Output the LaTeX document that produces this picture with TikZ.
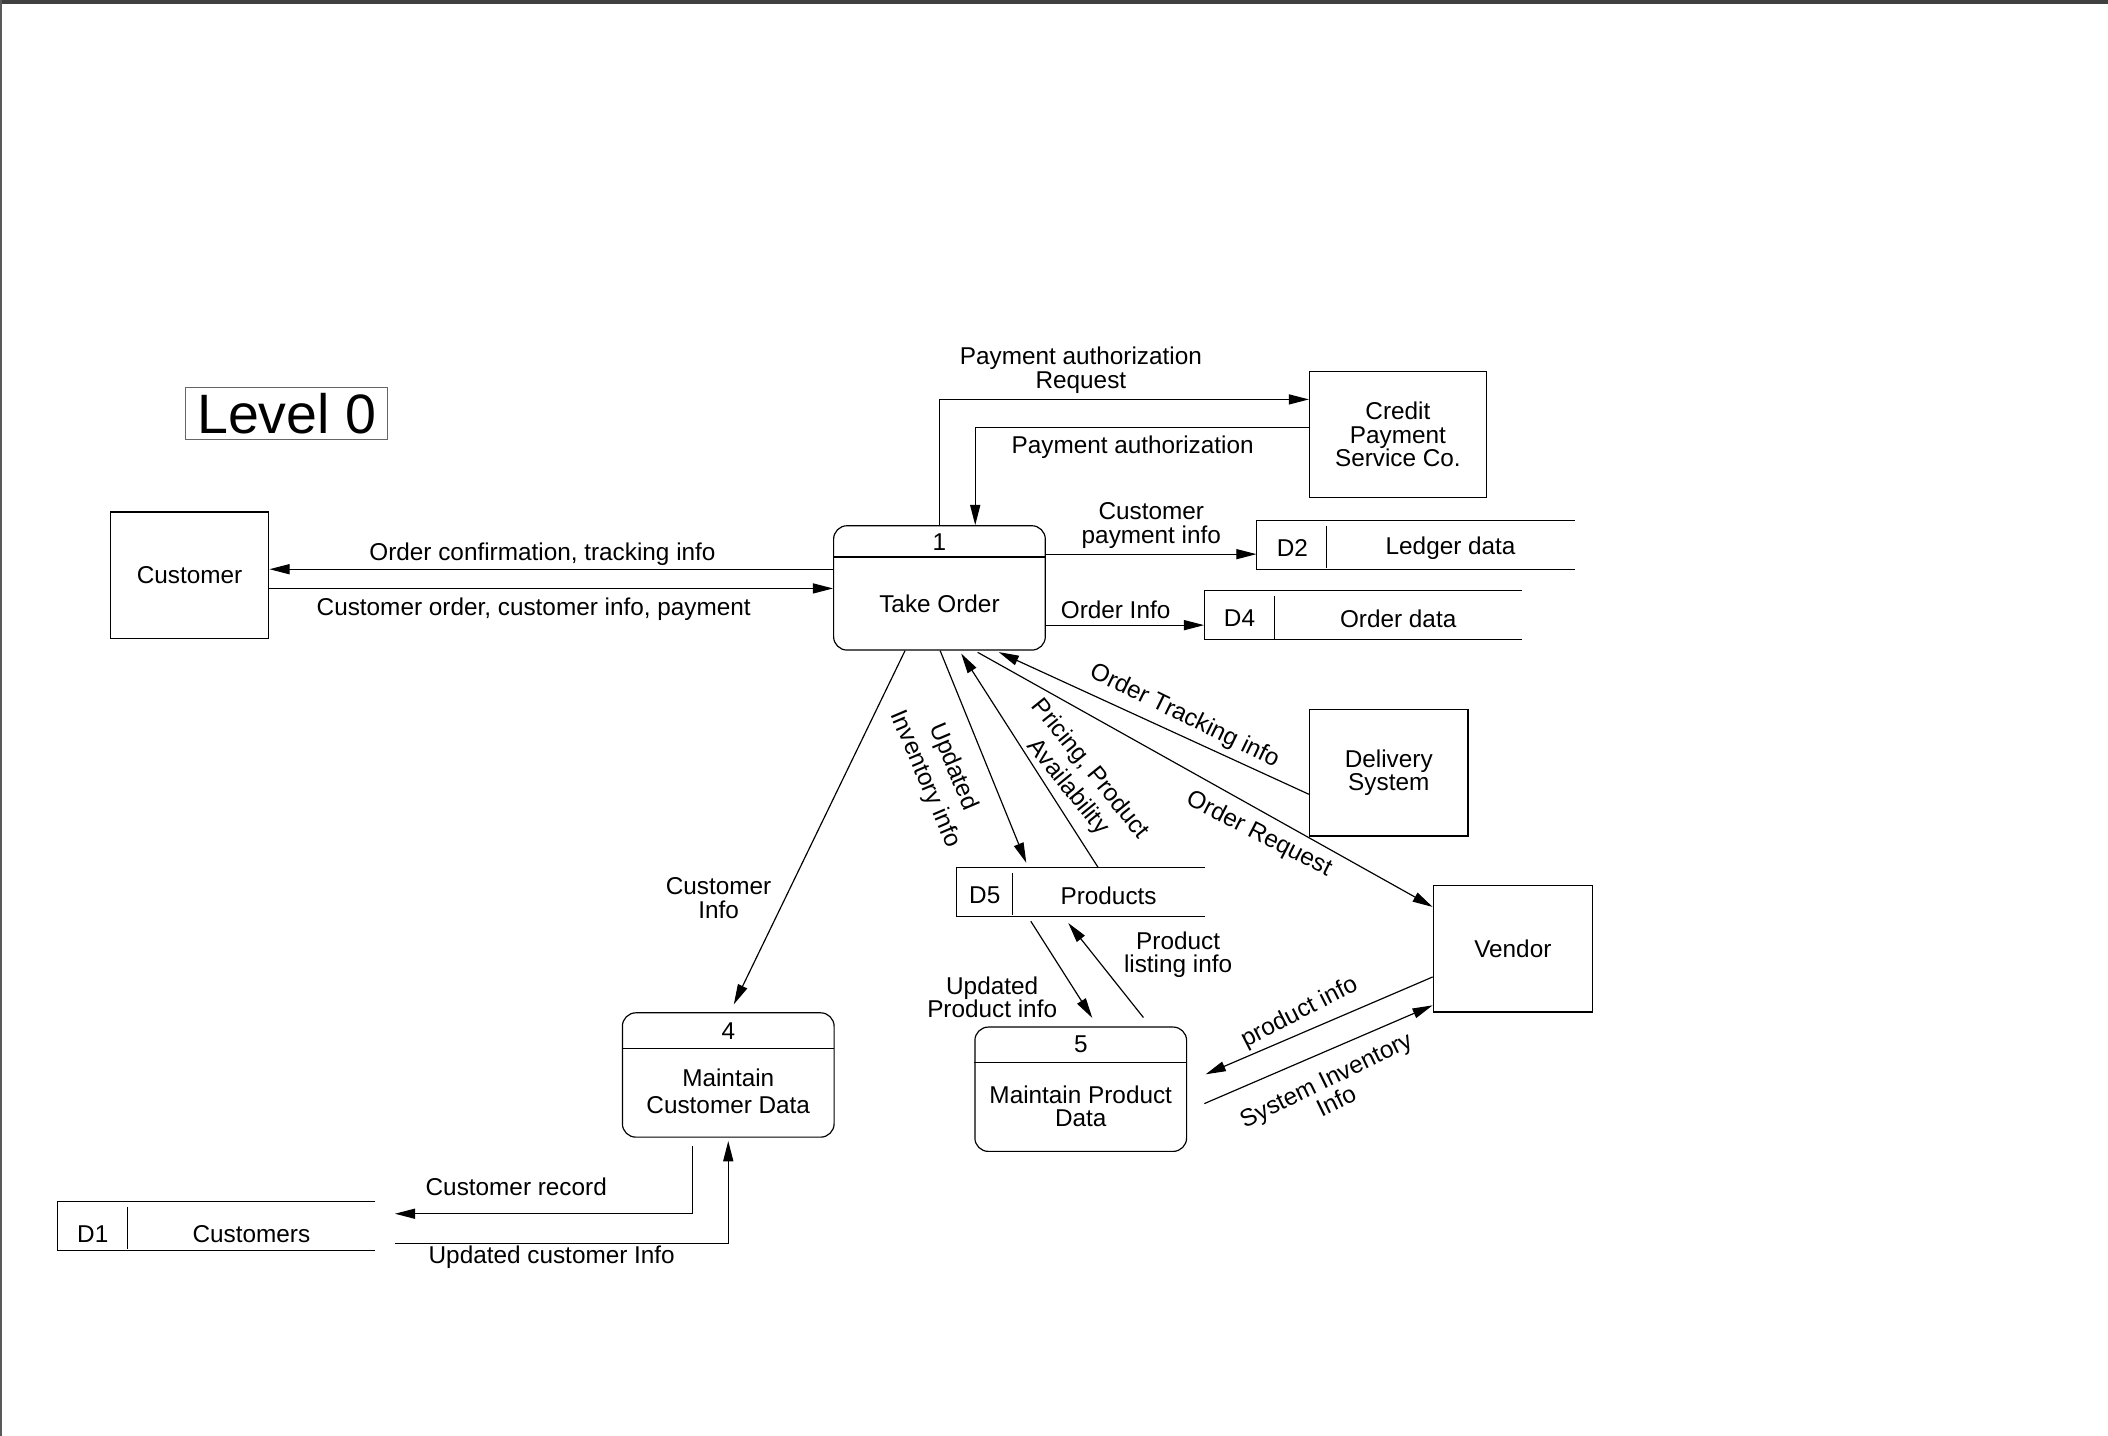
\documentclass[tikz,border=0pt]{standalone}
\usepackage{fontspec}
\setmainfont{Liberation Sans}
\usetikzlibrary{arrows.meta}

\begin{document}
\begin{tikzpicture}[x=0.02cm,y=-0.02cm,
  font=\fontsize{10.3}{10}\selectfont,
  line width=0.5pt,
  entity/.style={shape=rectangle,draw=black,minimum width=2.36cm,minimum height=1.886cm,align=center,inner sep=0pt},
  process/.style={shape=rectangle,draw=black,rounded corners=0.2cm,minimum width=3.15cm,minimum height=1.85cm,inner sep=0pt},
  store/.style={shape=rectangle,minimum height=0.71cm,inner sep=0pt},
  txt/.style={inner sep=0pt,align=center},
  dataflow/.style={-{Triangle[length=0.3cm,width=0.15cm]}}]

\useasboundingbox (0,0) rectangle (1568,1068);
\fill[black!75] (0,0) rectangle (1568,3);
\fill[black!65] (0,0) rectangle (1.5,1068);

\node[draw=black!60,line width=0.4pt,minimum width=3.01cm,minimum height=0.77cm,inner sep=0pt,font=\fontsize{23.5}{23.5}\selectfont] (title) at (213.3,307.7) {Level 0};

% external entities
\node[entity] (Customer) at (141,428) {Customer};
\node[entity,minimum width=2.63cm] (Credit) at (1039.8,323.2) {Credit\\Payment\\Service Co.};
\node[entity] (Delivery) at (1033,574.7) {Delivery\\System};
\node[entity,minimum width=2.37cm] (Vendor) at (1125.3,705.6) {Vendor};

% processes
\node[process] (TakeOrder) at (698.8,437.3) {};
\draw (TakeOrder.north west) ++(0,23.7) -- ++(157.5,0);
\node[txt] (TakeOrderNo) at (698.8,403) {1};
\node[txt] (TakeOrderName) at (698.8,449) {Take Order};

\node[process] (P4) at (541.7,799.6) {};
\draw (P4.north west) ++(0,27) -- ++(157.5,0);
\node[txt] (P4No) at (541.7,767) {4};
\node[txt] (P4Name) at (541.7,812) {Maintain\\[1.5pt]Customer Data};

\node[process] (P5) at (803.9,810.2) {};
\draw (P5.north west) ++(0,26.5) -- ++(157.5,0);
\node[txt] (P5No) at (803.9,776.5) {5};
\node[txt] (P5Name) at (803.9,823) {Maintain Product\\Data};

% data stores
\node[store,minimum width=4.72cm] (D2) at (1053,405.2) {};
\draw (D2.north east) -- (D2.north west) -- (D2.south west) -- (D2.south east);
\draw (D2.north west) ++(52.4,4) -- ++(0,31.5);
\node[txt] (D2No) at (961.3,407.5) {D2};
\node[txt] (D2Name) at (1079,407.5) {Ledger data};

\node[store,minimum width=4.714cm] (D4) at (1013.9,457.5) {};
\draw (D4.north east) -- (D4.north west) -- (D4.south west) -- (D4.south east);
\draw (D4.north west) ++(52.3,4) -- ++(0,31.9);
\node[txt] (D4No) at (922,460) {D4};
\node[txt] (D4Name) at (1040,460) {Order data};

\node[store,minimum width=3.68cm] (D5) at (803.8,663.7) {};
\draw (D5.north east) -- (D5.north west) -- (D5.south west) -- (D5.south east);
\draw (D5.north west) ++(41.6,4) -- ++(0,31.4);
\node[txt] (D5No) at (732.5,666) {D5};
\node[txt] (D5Name) at (824.6,666) {Products};

\node[store,minimum width=4.71cm] (D1) at (161.1,911.7) {};
\draw (D1.north east) -- (D1.north west) -- (D1.south west) -- (D1.south east);
\draw (D1.north west) ++(51.7,4) -- ++(0,31.2);
\node[txt] (D1No) at (69,918) {D1};
\node[txt] (D1Name) at (187,918) {Customers};

% free ends
\coordinate (pInfoEnd) at (896.8,799.1);
\coordinate (sysInvStart) at (895.8,820.9);

% flows
\path[dataflow] (TakeOrder.west |- 0,423.4) edge (Customer.east |- 0,423.4);
\path[dataflow] (Customer.east |- 0,437.7) edge (TakeOrder.west |- 0,437.7);
\draw[dataflow] (TakeOrder.north) |- (Credit.west |- 0,297.1);
\draw[dataflow] (Credit.west |- 0,318.2) -| (TakeOrder.north -| 725.4,0);
\path[dataflow] (TakeOrder.east |- 0,412.2) edge (D2.west |- 0,412.2);
\path[dataflow] (TakeOrder.east |- 0,465) edge (D4.west |- 0,465);
\path[dataflow] (TakeOrder.south -| 673.2,0) edge[shorten >=0.13cm] (P4.north -| 543,0);
\path[dataflow] (TakeOrder.south -| 699.3,0) edge[shorten >=0.08cm] (D5.north -| 764.9,0);
\path[dataflow] (D5.north -| 817,0) edge[shorten >=0.05cm] (TakeOrder.south -| 713.6,0);
\path[dataflow] (TakeOrder.south -| 725,0) edge[shorten <=0.05cm] (Vendor.west |- 0,674.6);
\path[dataflow] (Delivery.west |- 0,590.8) edge[shorten >=0.05cm] (TakeOrder.south -| 740.6,0);
\path[dataflow] (D5.south -| 764.6,0) edge[shorten <=0.08cm,shorten >=0.15cm] (P5.north -| 816.5,0);
\path[dataflow] (P5.north -| 855.8,0) edge[shorten <=0.17cm,shorten >=0.12cm] (D5.south -| 790.9,0);
\path[dataflow] (Vendor.west |- 0,726.7) edge (pInfoEnd);
\path[dataflow] (sysInvStart) edge (Vendor.west |- 0,747.8);
\draw[dataflow,shorten <=0.12cm,shorten >=0.29cm] (P4.south -| 515.4,0) |- (D1.east |- 0,902.8);
\draw[dataflow,shorten <=0.29cm,shorten >=0.05cm] (D1.east |- 0,925) -| (P4.south);

% flow labels
\node[txt] (lReq) at (804,275.6) {Payment authorization\\Request};
\node[txt] (lAuth) at (842.5,333) {Payment authorization};
\node[txt] (lPay) at (856.4,390.7) {Customer\\payment info};
\node[txt] (lOrderInfo) at (829.8,453.4) {Order Info};
\node[txt] (lConfirm) at (403.5,412) {Order confirmation, tracking info};
\node[txt] (lCustOrder) at (397,453.5) {Customer order, customer info, payment};
\node[txt] (lCustInfo) at (534.5,668) {Customer\\Info};
\node[txt,rotate=-67] (lInv) at (698.3,575) {Updated\\[3pt]Inventory info};
\node[txt,rotate=-51] (lPrice) at (802.4,578.9) {Pricing, Product\\[2pt]Availability};
\node[txt,rotate=-26] (lTrack) at (881,533) {Order Tracking info};
\node[txt,rotate=-27] (lOrdReq) at (936.4,620.7) {Order Request};
\node[txt] (lUpdProd) at (738,741.7) {Updated\\Product info};
\node[txt] (lListing) at (876.3,710) {Product\\listing info};
\node[txt,rotate=27] (lProdInfo) at (966.7,753.3) {product info};
\node[txt,rotate=26] (lSysInv) at (990,811) {System Inventory\\Info};
\node[txt] (lRecord) at (384,883) {Customer record};
\node[txt] (lUpdCust) at (410.4,935) {Updated customer Info};
\end{tikzpicture}
\end{document}
